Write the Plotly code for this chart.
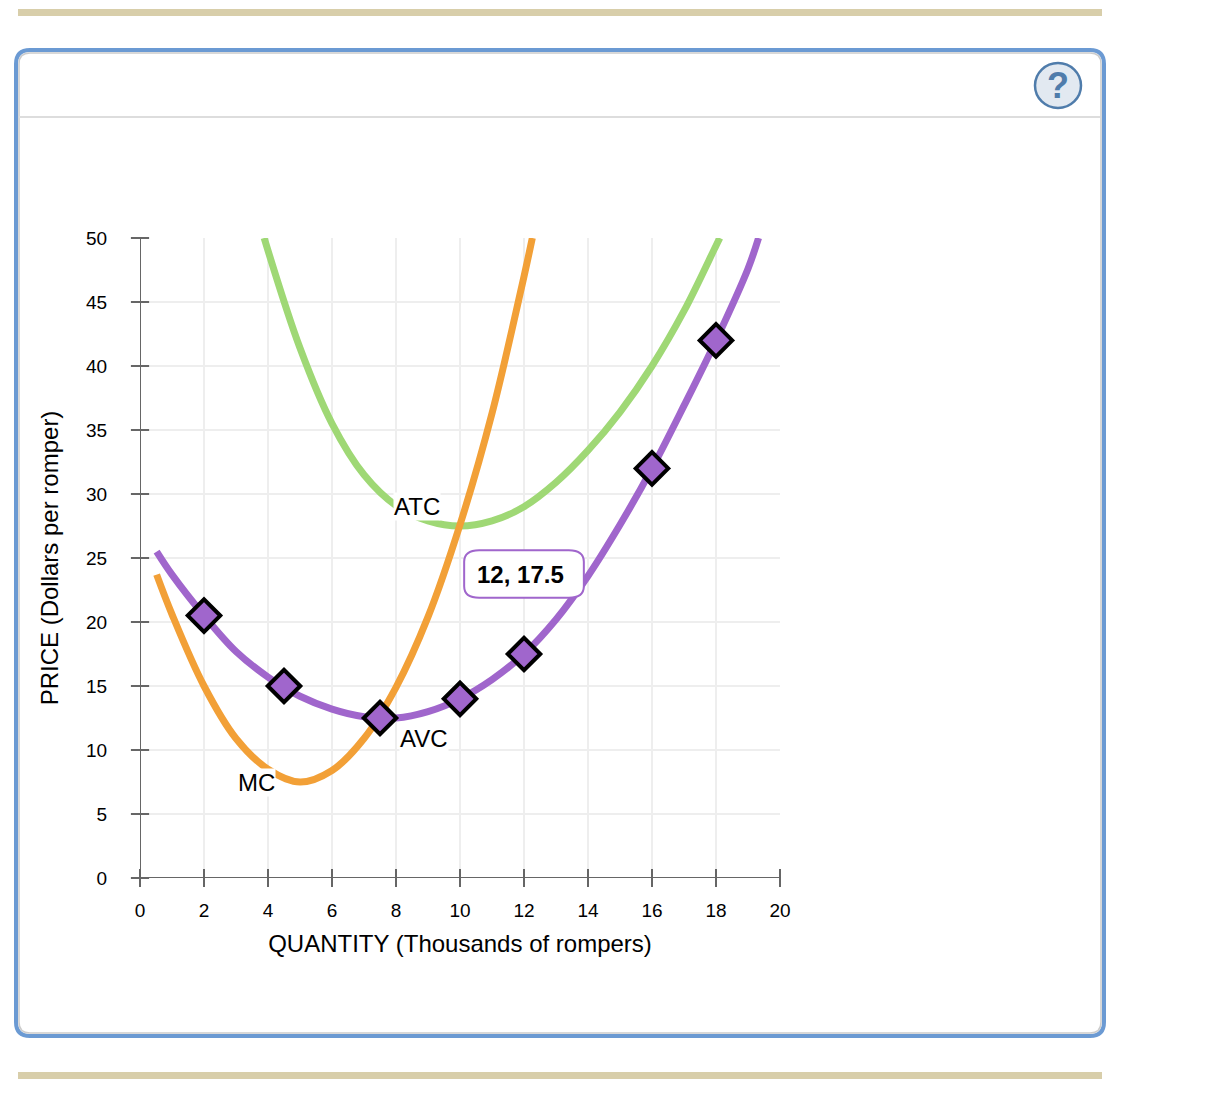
import plotly.graph_objects as go

# values
x_ticks = list(range(0, 21, 2))
y_ticks = list(range(0, 51, 5))

atc_x = [3.88, 5, 6, 7, 8, 9, 10, 11, 12, 13, 14, 15, 16, 17, 18, 18.12]
atc_y = [50, 41.4, 35.5, 31.5, 29.1, 27.9, 27.5, 27.9, 29, 30.9, 33.4, 36.4, 40, 44.3, 49.4, 50]

mc_x = [0.52, 1, 2, 3, 4, 5, 6, 7, 8, 9, 10, 11, 12, 12.26]
mc_y = [23.7, 20.6, 15, 10.9, 8.5, 7.5, 8.4, 10.9, 14.9, 20.4, 27.6, 36.3, 47, 50]

avc_x = [0.52, 1, 2, 3, 4, 5, 6, 7, 8, 9, 10, 11, 12, 13, 14, 15, 16, 17, 18, 19, 19.33]
avc_y = [25.5, 23.7, 20.5, 17.7, 15.7, 14.2, 13.2, 12.6, 12.5, 13, 14, 15.5, 17.5, 20.2, 23.6, 27.6, 32, 36.9, 42, 47.6, 50]

point_x = [2, 4.5, 7.5, 10, 12, 16, 18]
point_y = [20.5, 15, 12.5, 14, 17.5, 32, 42]

W, H = 1218, 1108
L, R, T, B = 140, 780, 238, 878
FONT = "Liberation Sans"


def px(x):
    return (x - L) / (R - L)


def py(y):
    return (B - y) / (B - T)


def round_rect(x0, y0, x1, y1, r):
    return (f"M {px(x0 + r)} {py(y0)} L {px(x1 - r)} {py(y0)} "
            f"Q {px(x1)} {py(y0)} {px(x1)} {py(y0 + r)} L {px(x1)} {py(y1 - r)} "
            f"Q {px(x1)} {py(y1)} {px(x1 - r)} {py(y1)} L {px(x0 + r)} {py(y1)} "
            f"Q {px(x0)} {py(y1)} {px(x0)} {py(y1 - r)} L {px(x0)} {py(y0 + r)} "
            f"Q {px(x0)} {py(y0)} {px(x0 + r)} {py(y0)} Z")


def page_rect(x0, y0, x1, y1, color):
    return dict(type="rect", xref="paper", yref="paper", x0=px(x0), x1=px(x1), y0=py(y0), y1=py(y1),
                fillcolor=color, line_width=0, layer="below")


fig = go.Figure()

fig.add_trace(go.Scatter(x=atc_x, y=atc_y, mode="lines", line=dict(color="#9fd875", width=7, shape="spline")))
fig.add_trace(go.Scatter(x=mc_x, y=mc_y, mode="lines", line=dict(color="#f2a037", width=7, shape="spline")))
fig.add_trace(go.Scatter(x=avc_x, y=avc_y, mode="lines", line=dict(color="#a066cc", width=7, shape="spline")))

# axis lines and the ticks that cross them
fig.add_trace(go.Scatter(x=[x_ticks[0], x_ticks[-1]], y=[0, 0], mode="lines", cliponaxis=False,
                         line=dict(color="#666666", width=2)))
fig.add_trace(go.Scatter(x=[0, 0], y=[y_ticks[0], y_ticks[-1]], mode="lines", cliponaxis=False,
                         line=dict(color="#666666", width=2)))
fig.add_trace(go.Scatter(x=x_ticks, y=[0] * len(x_ticks), mode="markers", cliponaxis=False,
                         marker=dict(symbol="line-ns", size=13, line=dict(color="#666666", width=2))))
fig.add_trace(go.Scatter(x=[0] * len(y_ticks), y=y_ticks, mode="markers", cliponaxis=False,
                         marker=dict(symbol="line-ew", size=13, line=dict(color="#666666", width=2))))

fig.add_trace(go.Scatter(x=point_x, y=point_y, mode="markers", cliponaxis=False,
                         marker=dict(symbol="diamond", size=25, color="#a066cc", line=dict(color="black", width=4))))

shapes = [
    page_rect(18, 9, 1102, 16, "#d8ceaa"),
    page_rect(18, 1072, 1102, 1079, "#d8ceaa"),
    dict(type="path", xref="paper", yref="paper", path=round_rect(16, 50, 1104, 1036, 14),
         fillcolor="white", line=dict(color="#6b9ad3", width=4), layer="below"),
    dict(type="path", xref="paper", yref="paper", path=round_rect(19, 53, 1101, 1033, 11),
         fillcolor="white", line=dict(color="#cccccc", width=1.5), layer="below"),
    dict(type="line", xref="paper", yref="paper", x0=px(19), x1=px(1100), y0=py(117), y1=py(117),
         line=dict(color="#dddddd", width=2), layer="below"),
    dict(type="circle", xref="paper", yref="paper", x0=px(1035), x1=px(1081), y0=py(63), y1=py(108),
         fillcolor="#e2e9f1", line=dict(color="#4f7cab", width=2.5), layer="below"),
    # value bubble
    dict(type="path", xref="x", yref="y", layer="above", fillcolor="white", line=dict(color="#a066cc", width=2),
         path="M 10.6 25.6 L 13.4 25.6 Q 13.87 25.6 13.87 24.7 L 13.87 22.8 Q 13.87 21.9 13.4 21.9 "
              "L 10.6 21.9 Q 10.13 21.9 10.13 22.8 L 10.13 24.7 Q 10.13 25.6 10.6 25.6 Z"),
]

labels = [
    ("ATC", 8.65, 29.05),
    ("AVC", 8.88, 10.9),
    ("MC", 3.65, 7.45),
]
annotations = [dict(x=x, y=y, text=t, showarrow=False, bgcolor="white", borderpad=0,
                    font=dict(family=FONT, size=24, color="black"))
               for t, x, y in labels]
annotations.append(dict(x=11.9, y=23.75, text="<b>12, 17.5</b>", showarrow=False,
                        font=dict(family=FONT, size=24, color="black")))
annotations.append(dict(x=px(1058), y=py(86), xref="paper", yref="paper", text="<b>?</b>", showarrow=False,
                        xanchor="center", yanchor="middle",
                        font=dict(family=FONT, size=36, color="#4f7cab")))

fig.update_layout(
    width=W, height=H, showlegend=False,
    paper_bgcolor="white", plot_bgcolor="white",
    margin=dict(l=L, r=W - R, t=T, b=H - B, pad=0),
    font=dict(family=FONT, color="black"),
    shapes=shapes, annotations=annotations,
    xaxis=dict(range=[0, 20], tickvals=x_ticks, ticks="outside", ticklen=15, tickcolor="rgba(0,0,0,0)",
               tickfont=dict(size=19), showgrid=True, gridcolor="#eeeeee", gridwidth=2, zeroline=False,
               showline=False,
               title=dict(text="QUANTITY (Thousands of rompers)", font=dict(size=24), standoff=15)),
    yaxis=dict(range=[0, 50], tickvals=y_ticks, ticks="outside", ticklen=28, tickcolor="rgba(0,0,0,0)",
               tickfont=dict(size=19), showgrid=True, gridcolor="#eeeeee", gridwidth=2, zeroline=False,
               showline=False,
               title=dict(text="PRICE (Dollars per romper)", font=dict(size=24), standoff=20)),
)

fig.write_html("out.html", config={"displayModeBar": False}, post_script="document.body.style.margin='0';")
